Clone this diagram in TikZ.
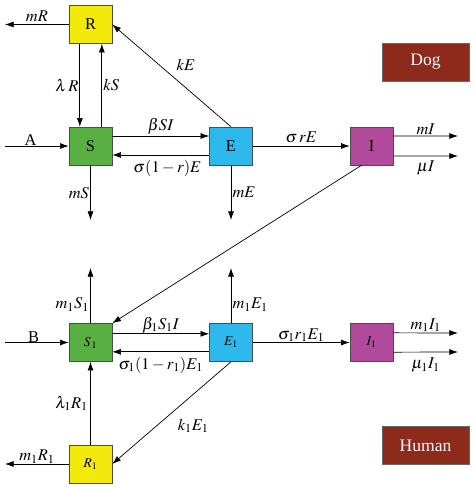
\documentclass[tikz,border=0pt]{standalone}
\usepackage{mathptmx}
\usepackage{fontspec}
\setmainfont{Liberation Serif}
\usetikzlibrary{arrows.meta}
\definecolor{rbox}{HTML}{F3EA0C}
\definecolor{sbox}{HTML}{58B043}
\definecolor{ebox}{HTML}{2DB9EC}
\definecolor{ibox}{HTML}{B24A9C}
\definecolor{tagred}{HTML}{8C2A1B}

\begin{document}
\begin{tikzpicture}[x=0.03cm, y=-0.03cm,
    font=\fontsize{14}{16}\selectfont,
    box/.style={draw=black!70, line width=0.5pt, minimum width=1.29cm, minimum height=1.14cm, inner sep=0pt},
    tag/.style={draw=black!60, fill=tagred, text=white!85!pink, minimum width=2.6cm, minimum height=1.14cm, font=\fontsize{15}{17}\selectfont},
    flow/.style={-{Latex[length=2.6mm,width=1.8mm]}, line width=0.6pt},
    sub/.style={font=\fontsize{11.5}{13}\selectfont}]
    \useasboundingbox (0,0) rectangle (474,488);

    % dog compartments
    \node[box, fill=rbox] (R) at (90.5,24.5) {R};
    \node[box, fill=sbox] (S) at (90.5,146) {S};
    \node[box, fill=ebox] (E) at (231,146) {E};
    \node[box, fill=ibox] (I) at (371.5,146) {I};
    \node[tag] (dog) at (425.5,62) {Dog};

    % human compartments
    \node[box, fill=sbox, sub] (S1) at (90.5,342.5) {$S_{\,1}$};
    \node[box, fill=ebox, sub] (E1) at (231,342.5) {$E_1$};
    \node[box, fill=ibox, sub] (I1) at (371.5,342.5) {$I_1$};
    \node[box, fill=rbox, sub] (R1) at (90.5,464) {$R_1$};
    \node[tag] (human) at (425.5,445.5) {Human};

    % free ends
    \coordinate (mRout) at (5,24.5);
    \coordinate (Ain) at (5,146);
    \coordinate (mSout) at (90.5,220);
    \coordinate (mEout) at (231,220);
    \coordinate (mIout) at (458,136);
    \coordinate (muIout) at (458,156);
    \coordinate (m1Sout) at (90.5,268);
    \coordinate (m1Eout) at (231,268);
    \coordinate (Bin) at (5,342.5);
    \coordinate (m1Iout) at (458,333);
    \coordinate (mu1Iout) at (458,352);
    \coordinate (m1Rout) at (5,464);

    % dog flows
    \draw[flow] (R.west) -- (mRout) node[midway, above, inner sep=2pt] {$mR$};
    \draw[flow] ([xshift=-0.32cm]R.south) -- ([xshift=-0.32cm]S.north) node[midway, left, inner sep=1pt] {$\lambda\, R$};
    \draw[flow] ([xshift=0.34cm]S.north) -- ([xshift=0.34cm]R.south) node[midway, right, inner sep=1pt] {$kS$};
    \draw[flow] (E.north) -- (R.east) node[midway, above right, inner sep=4pt] {$kE$};
    \draw[flow] (Ain) -- (S.west) node[pos=0.4, above, inner sep=0pt] {A};
    \draw[flow] ([yshift=0.3cm]S.east) -- ([yshift=0.3cm]E.west) node[midway, above, inner sep=1pt] {$\beta SI$};
    \draw[flow] ([yshift=-0.27cm]E.west) -- ([yshift=-0.27cm]S.east) node[midway, below, inner sep=4pt, xshift=0.2cm] {$\sigma(1-r)E$};
    \draw[flow] (S.south) -- (mSout) node[midway, left, inner sep=1pt] {$mS$};
    \draw[flow] (E.south) -- (mEout) node[midway, right, inner sep=1pt] {$mE$};
    \draw[flow] (E.east) -- (I.west) node[midway, above, inner sep=2pt] {$\sigma\, rE$};
    \draw[flow] ([yshift=0.3cm]I.east) -- (mIout) node[midway, above, inner sep=1pt] {$mI$};
    \draw[flow] ([yshift=-0.3cm]I.east) -- (muIout) node[midway, below, inner sep=4pt] {$\mu I$};
    \draw[flow] ([xshift=-0.3cm]I.south) -- (S1.north east);

    % human flows
    \draw[flow] (S1.north) -- (m1Sout) node[pos=0.34, left, inner sep=1pt] {$m_1S_1$};
    \draw[flow] (E1.north) -- (m1Eout) node[pos=0.34, right, inner sep=1pt] {$m_1E_1$};
    \draw[flow] (Bin) -- (S1.west) node[pos=0.45, above, inner sep=0pt] {B};
    \draw[flow] ([yshift=0.26cm]S1.east) -- ([yshift=0.26cm]E1.west) node[midway, above, inner sep=0.5pt] {$\beta_1S_1I$};
    \draw[flow] ([yshift=-0.28cm]E1.west) -- ([yshift=-0.28cm]S1.east) node[midway, below, inner sep=4pt] {$\sigma_1(1-r_1)E_1$};
    \draw[flow] (E1.east) -- (I1.west) node[midway, above, inner sep=0.5pt] {$\sigma_1r_1E_1$};
    \draw[flow] ([yshift=0.29cm]I1.east) -- (m1Iout) node[midway, above, inner sep=0.5pt] {$m_1I_1$};
    \draw[flow] ([yshift=-0.29cm]I1.east) -- (mu1Iout) node[midway, below, inner sep=5pt] {$\mu_1I_1$};
    \draw[flow] (R1.north) -- (S1.south) node[midway, left, inner sep=2pt] {$\lambda_1R_1$};
    \draw[flow] (E1.south) -- (R1.east) node[midway, below right, inner sep=5pt] {$k_1E_1$};
    \draw[flow] (R1.west) -- (m1Rout) node[midway, above, inner sep=0.5pt] {$m_1R_1$};
\end{tikzpicture}
\end{document}
